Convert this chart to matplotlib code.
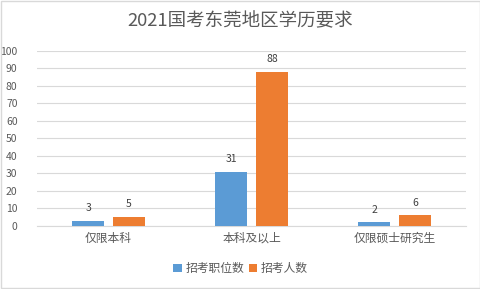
import matplotlib
matplotlib.use('Agg')
import matplotlib.pyplot as plt
import numpy as np
from matplotlib.patches import Rectangle

plt.rcParams['font.family'] = ['Noto Sans CJK SC', 'DejaVu Sans']

categories = ['仅限本科', '本科及以上', '仅限硕士研究生']
series_names = ['招考职位数', '招考人数']
positions = [3, 31, 2]
people = [5, 88, 6]
colors = ['#5B9BD5', '#ED7D31']
yticks = list(range(0, 101, 10))

fig = plt.figure(figsize=(4.81, 2.89), dpi=100)
fig.patch.set_facecolor('white')
ax = fig.add_axes([0.077, 0.218, 0.892, 0.606])

x = np.arange(len(categories))
w = 0.22
off = 0.143
b1 = ax.bar(x - off, positions, w, color=colors[0], label=series_names[0], zorder=3)
b2 = ax.bar(x + off, people, w, color=colors[1], label=series_names[1], zorder=3)
for bars, vals in ((b1, positions), (b2, people)):
    for r, v in zip(bars, vals):
        ax.text(r.get_x() + r.get_width() / 2, v + 4.5, str(v), ha='center', va='bottom',
                fontsize=7.5, color='#404040')

ax.set_xlim(-0.5, 2.5)
ax.set_ylim(0, 100)
ax.set_yticks(yticks)
ax.set_xticks(x)
ax.set_xticklabels(categories, fontsize=8.5, color='#595959')
ax.tick_params(axis='y', labelsize=7.5, colors='#595959', length=0, pad=14)
ax.tick_params(axis='x', length=0, pad=4)
for lbl in ax.get_yticklabels():
    lbl.set_horizontalalignment('right')
ax.grid(axis='y', color='#D9D9D9', linewidth=0.8, zorder=0)
for s in ('top', 'right', 'left'):
    ax.spines[s].set_visible(False)
ax.spines['bottom'].set_color('#D9D9D9')
ax.spines['bottom'].set_linewidth(0.8)

fig.text(0.5, 0.925, '2021国考东莞地区学历要求', ha='center', va='center', fontsize=13.3, color='#595959')
fig.legend(loc='center', bbox_to_anchor=(0.5, 0.07), ncol=2, frameon=False, fontsize=8.5,
           handlelength=0.7, handleheight=0.7, handletextpad=0.3, columnspacing=0.4,
           labelcolor='#595959')

fig.add_artist(Rectangle((0.002, 0.003), 0.996, 0.994, transform=fig.transFigure, fill=False,
                         edgecolor='#D9D9D9', linewidth=1))

fig.savefig('out.png', dpi=100)
